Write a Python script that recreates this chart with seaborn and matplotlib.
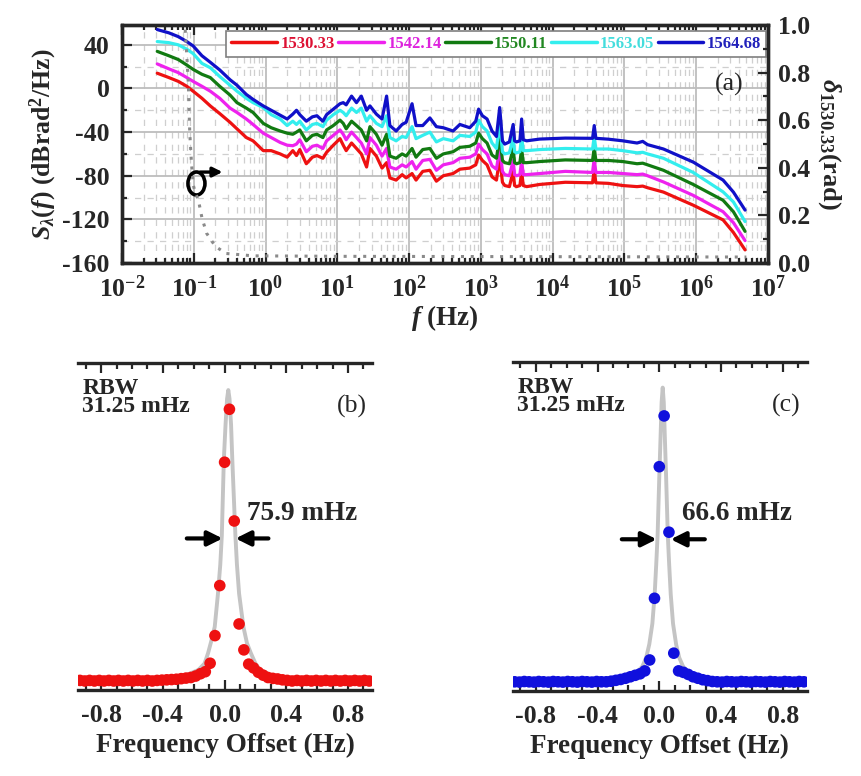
import numpy as np
import pandas as pd
import matplotlib
matplotlib.use('Agg')
import matplotlib.pyplot as plt
import seaborn as sns
from matplotlib.lines import Line2D
from matplotlib.patches import Ellipse
from matplotlib.ticker import LogLocator, MultipleLocator, NullFormatter, FixedLocator

# --- data: (a) phase noise PSD per channel (dBrad^2/Hz) ---
freq_hz = [0.031, 0.045, 0.061, 0.08, 0.098, 0.13, 0.17, 0.23, 0.32, 0.4, 0.54, 0.67, 0.93, 1.2, 1.6,
           2.0, 2.4, 2.7, 3.0, 3.7, 4.5, 5.2, 6.3, 7.1, 8.8, 10.9, 12.1, 13.3, 15.8, 18.5, 21.6, 25.6,
           28.5, 35, 42, 48.6, 54, 66, 80, 91, 110, 125, 155, 195, 240, 300, 410, 510, 700, 850, 930,
           1050, 1220, 1430, 1650, 1830, 2000, 2150, 2500, 2820, 2950, 3140, 3500, 3700, 3900, 4350,
           6600, 15000, 36000, 38000, 40000, 60000, 95000, 1.5e5, 1.8e5, 2.1e5, 3.5e5, 9.1e5, 2.37e6,
           3.3e6, 4.8e6]

psd_1530 = [14, 10, 6.5, 2, -2.5, -9, -16, -23, -31, -37, -45, -48, -57, -57, -60,
            -63, -57, -61.5, -56, -69, -63, -61.5, -64, -58.5, -52, -46, -52, -57, -50, -55, -60, -72,
            -55, -62, -73, -68, -82, -84, -79, -82, -78, -84, -76, -75, -85, -80, -78, -74, -73, -70, -61,
            -66, -70, -81, -84, -64, -86, -89, -90, -76, -89, -90, -89, -76, -89, -90,
            -88, -86, -86.5, -74, -86.5, -87, -89, -90, -89.5, -91, -95, -107, -120.5,
            -132, -148]
psd_1542 = [22.5, 18, 14.5, 10, 6.5, 2, -2.5, -9, -18, -22, -28, -33, -41, -45, -49.5,
            -52, -52.5, -51, -47, -58, -53, -52, -55, -48, -43, -38, -42, -47, -40, -45, -50, -60,
            -45, -52, -62, -55, -72, -74, -70, -72, -67, -74, -66, -65, -75, -70, -68, -64, -63, -60, -51,
            -56, -60, -71, -74, -54, -76, -79, -80, -66, -79, -80, -79, -66, -79, -79,
            -78, -76, -77, -64, -77, -77, -78, -79, -78.5, -80, -85.7, -98, -113,
            -123, -139.5]
psd_1550 = [34, 30, 26.5, 21.5, 17.5, 13, 10, 2, -6, -13, -18, -22, -32, -36, -39,
            -41, -42, -40, -38, -48, -43, -42, -45, -38, -34, -29, -32, -37, -30, -34, -38, -48,
            -35, -42, -52, -42, -62, -64, -60, -62, -55, -63, -56, -55, -64, -60, -58, -54, -53, -50, -41,
            -46, -50, -61, -64, -44, -66, -68, -69, -55, -68, -69, -68, -55, -68, -68,
            -67, -65.5, -66, -54, -66, -66, -67, -69, -68.5, -70, -75, -88, -102.5,
            -113, -131]
psd_1563 = [43, 42, 40, 36, 32, 23, 19, 11, 3, -2.5, -9, -13, -17.5, -24, -28,
            -34, -30, -33, -30, -38, -33, -32, -35, -29, -24, -20, -22, -25, -18, -22, -18, -30,
            -25, -32, -35, -25, -45, -48, -44, -45, -35, -46, -43, -40, -49, -46, -48, -43, -44, -40, -29,
            -35, -39, -50, -55, -31, -58, -60, -59, -45, -58, -59, -58, -44, -57, -57,
            -56, -55, -55.5, -44, -55.5, -55.5, -57, -59, -58.5, -60, -64, -77, -94.8,
            -104, -122]
psd_1564 = [54, 51, 47.5, 43, 39, 30, 24, 17, 8, 3, -5.5, -10, -16, -20, -24.5,
            -28, -23.5, -20, -24, -30, -26, -25, -30, -24, -19, -14, -13, -15, -7, -13, -7, -20,
            -16, -23.5, -28, -7, -34, -39, -33, -31, -14, -34, -34, -27, -35, -36, -39, -33, -36, -30, -19,
            -25, -28, -39, -44, -17.5, -48, -51, -49, -33, -48, -49, -48, -28, -47, -48,
            -46.4, -45.5, -45.7, -34, -45.7, -46.5, -48, -50, -48.5, -51.5, -55.5, -67.5, -84,
            -95, -111.5]

channels = ['1530.33', '1542.14', '1550.11', '1563.05', '1564.68']
line_colors = ['#ee1111', '#ee22ee', '#117a11', '#33eeee', '#1010c8']
text_colors = ['#dd1133', '#dd22dd', '#228822', '#44dddd', '#2222bb']

# integrated phase of 1530.33 (rad), right axis
sigma_f = [0.076, 0.08, 0.084, 0.088, 0.093, 0.098, 0.105, 0.116, 0.13, 0.151, 0.2, 0.28, 0.67,
           10, 1e3, 1e5, 5e6]
sigma_rad = [0.98, 0.87, 0.755, 0.545, 0.42, 0.33, 0.295, 0.265, 0.19, 0.125, 0.07, 0.04, 0.03,
             0.028, 0.027, 0.026, 0.025]

# --- data: (b), (c) beat-note spectra (normalised), RBW 31.25 mHz ---
rbw = 0.03125
offset_hz = np.arange(-30, 31) * rbw
beat_b = [0.002, 0.0, 0.002, 0.0, 0.002, 0.0, 0.002, 0.0, 0.002, 0.0, 0.002, 0.0, 0.002, 0.0, 0.002,
          0.0, 0.002, 0.003, 0.004, 0.005, 0.006, 0.008, 0.01, 0.012, 0.017, 0.025, 0.032, 0.061,
          0.156, 0.328, 0.752, 0.934, 0.55, 0.196, 0.107, 0.058, 0.045, 0.03, 0.02, 0.012, 0.009,
          0.007, 0.004, 0.002, 0.0, 0.002, 0.0, 0.002, 0.0, 0.002, 0.0, 0.002, 0.0, 0.002, 0.0,
          0.002, 0.0, 0.002, 0.0, 0.002, 0.0]
beat_c = [0.003, 0.002, 0.004, 0.003, 0.002, 0.004, 0.003, 0.002, 0.004, 0.003, 0.002, 0.004, 0.003,
          0.002, 0.004, 0.003, 0.002, 0.004, 0.003, 0.003, 0.005, 0.008, 0.011, 0.015, 0.02, 0.025,
          0.03, 0.04, 0.077, 0.286, 0.732, 0.904, 0.51, 0.10, 0.04, 0.035, 0.028, 0.02, 0.015, 0.01,
          0.007, 0.004, 0.003, 0.002, 0.004, 0.003, 0.002, 0.004, 0.003, 0.002, 0.004, 0.003, 0.002,
          0.004, 0.003, 0.002, 0.004, 0.003, 0.002, 0.004, 0.003]

fit_b_x = [-0.95, -0.7, -0.5, -0.38, -0.33, -0.25, -0.17, -0.13, -0.107, -0.085, -0.064, -0.043,
           -0.028, -0.018, -0.005, 0.006, 0.016, 0.024, 0.032, 0.042, 0.05, 0.07, 0.08, 0.094, 0.122,
           0.145, 0.17, 0.2, 0.23, 0.3, 0.38, 0.5, 0.7, 0.95]
fit_b_y = [0.003, 0.004, 0.006, 0.008, 0.01, 0.02, 0.038, 0.06, 0.096, 0.14, 0.186, 0.3,
           0.4, 0.5, 0.76, 0.88, 0.97, 1.0, 0.97, 0.88, 0.76, 0.5, 0.4, 0.3, 0.186,
           0.13, 0.096, 0.06, 0.038, 0.02, 0.01, 0.007, 0.004, 0.003]
fit_c_x = [-0.95, -0.6, -0.4, -0.3, -0.22, -0.15, -0.11, -0.085, -0.065, -0.045, -0.03, -0.02,
           -0.011, 0.0, 0.008, 0.015, 0.022, 0.029, 0.036, 0.044, 0.055, 0.064, 0.074, 0.089, 0.109,
           0.129, 0.154, 0.194, 0.264, 0.344, 0.444, 0.644, 0.95]
fit_c_y = [0.003, 0.004, 0.007, 0.01, 0.018, 0.032, 0.055, 0.085, 0.13, 0.2, 0.3, 0.4,
           0.5, 0.7, 0.83, 0.95, 1.0, 0.95, 0.83, 0.7, 0.5, 0.4, 0.3, 0.2, 0.13,
           0.085, 0.055, 0.032, 0.018, 0.01, 0.007, 0.004, 0.003]

# --- style ---
sns.set_theme(style="ticks")
plt.rcParams['font.family'] = ['Liberation Serif', 'DejaVu Serif']
plt.rcParams['font.weight'] = 'bold'
plt.rcParams['axes.labelweight'] = 'bold'
plt.rcParams['axes.unicode_minus'] = False
plt.rcParams['mathtext.fontset'] = 'custom'
plt.rcParams['mathtext.rm'] = 'Liberation Serif:bold'
plt.rcParams['mathtext.it'] = 'Liberation Serif:italic:bold'
plt.rcParams['mathtext.bf'] = 'Liberation Serif:bold'

TICK_FS = 18.5
SPINE_W = 2.4

fig = plt.figure(figsize=(8.62, 7.76), dpi=100)

# ---------------- (a) ----------------
ax = fig.add_axes([0.1415, 0.6611, 0.7494, 0.3067])
ax.set_xscale('log')
axr = ax.twinx()

df = pd.DataFrame({
    'f': freq_hz * 5,
    'S': psd_1530 + psd_1542 + psd_1550 + psd_1563 + psd_1564,
    'ch': sum([[c] * len(freq_hz) for c in channels], []),
})
sns.lineplot(data=df, x='f', y='S', hue='ch', hue_order=channels, palette=line_colors,
             estimator=None, sort=False, lw=2.3, legend=False, ax=ax)
sns.lineplot(x=sigma_f, y=sigma_rad, ax=axr, color='#8a8a8a', lw=2.2, ls=(0, (1, 2.2)), sort=False,
             estimator=None)

ax.set_xlim(1e-2, 1e7)
ax.set_ylim(-160, 58.2)
ax.set_yticks([40, 0, -40, -80, -120, -160])
ax.yaxis.set_minor_locator(MultipleLocator(20))
ax.xaxis.set_major_locator(FixedLocator([10.0 ** k for k in range(-2, 8)]))
ax.set_xticklabels(['$10^{%d}$' % k for k in range(-2, 8)])
ax.xaxis.set_minor_locator(LogLocator(base=10, subs=np.arange(2, 10), numticks=30))
ax.xaxis.set_minor_formatter(NullFormatter())
ax.set_axisbelow(True)
ax.grid(which='major', color='#bdbdbd', lw=1.3, ls='-')
ax.grid(which='minor', color='#cfcfcf', lw=0.9, ls=(0, (5, 5)))
ax.tick_params(which='both', direction='in', top=True, right=False, labelsize=TICK_FS, width=1.6)
ax.tick_params(which='major', length=7, pad=9)
ax.tick_params(which='minor', length=3.5)
for s in ax.spines.values():
    s.set_linewidth(SPINE_W)
ax.set_xlabel('$f$ (Hz)', fontsize=19.5, labelpad=1)
ax.set_ylabel('$S_{\\lambda}(f)$ (dBrad$^2$/Hz)', fontsize=18.5, labelpad=2)

handles = [Line2D([0], [0], color=c, lw=2.5) for c in line_colors]
leg = ax.legend(handles, channels, ncol=5, loc='upper right', bbox_to_anchor=(0.997, 0.975),
                frameon=True, fancybox=False, edgecolor='#7f7f7f', framealpha=1,
                prop={'family': 'Liberation Serif', 'weight': 'bold', 'size': 12},
                handlelength=2.75, handletextpad=0.2, columnspacing=0.2, borderpad=0.3,
                borderaxespad=0)
leg.get_frame().set_linewidth(1.2)
for t, c in zip(leg.get_texts(), text_colors):
    t.set_color(c)
ax.text(0.94, 0.75, '(a)', transform=ax.transAxes, fontsize=18.5, fontweight='normal',
        ha='center', va='center')

# sigma marker pointing to right axis
ax.add_patch(Ellipse((0.1153, 0.334), 0.0263, 0.0966, transform=ax.transAxes,
                     fill=False, lw=2.6, ec='black', zorder=6))
ax.annotate('', xy=(0.16, 0.382), xytext=(0.117, 0.382), xycoords='axes fraction',
            arrowprops=dict(arrowstyle='-|>', lw=2.4, color='black', mutation_scale=14), zorder=6)

axr.set_ylim(0, 1.0)
axr.set_yticks(np.arange(0, 1.01, 0.2))
axr.set_yticklabels(['%.1f' % v for v in np.arange(0, 1.01, 0.2)])
axr.yaxis.set_minor_locator(MultipleLocator(0.1))
axr.tick_params(which='both', direction='in', labelsize=TICK_FS, width=1.6)
axr.tick_params(which='major', length=7, pad=7)
axr.tick_params(which='minor', length=3.5)
for s in axr.spines.values():
    s.set_linewidth(SPINE_W)
axr.set_ylabel('$\\delta_{1530.33}$(rad)', fontsize=19, rotation=270, labelpad=24)


# ---------------- (b), (c) ----------------
def beat_panel(axp, fit_x, fit_y, dots, color, width_txt, tag, ylim, arrow_y, arr_l, arr_r):
    sns.lineplot(x=fit_x, y=fit_y, ax=axp, color='#c4c4c4', lw=2.8, sort=False, estimator=None,
                 zorder=2)
    sns.scatterplot(x=offset_hz, y=dots, ax=axp, color=color, s=70, edgecolor='none', zorder=3)
    axp.set_xlim(-0.95, 0.955)
    axp.set_ylim(*ylim)
    axp.set_xticks([-0.8, -0.4, 0.0, 0.4, 0.8])
    axp.set_xticklabels(['-0.8', '-0.4', '0.0', '0.4', '0.8'])
    axp.xaxis.set_minor_locator(MultipleLocator(0.1))
    axp.set_yticks([])
    for side in ['left', 'right']:
        axp.spines[side].set_visible(False)
    for side in ['top', 'bottom']:
        axp.spines[side].set_linewidth(SPINE_W)
    axp.tick_params(axis='x', which='both', direction='in', top=True, width=1.6, labelsize=TICK_FS)
    axp.tick_params(axis='x', which='major', length=7, pad=10)
    axp.tick_params(axis='x', which='minor', length=4)
    axp.set_xlabel('Frequency Offset (Hz)', fontsize=19.5, labelpad=4)
    axp.set_ylabel('')
    axp.text(0.015, 0.955, 'RBW\n31.25 mHz', transform=axp.transAxes, fontsize=17,
             ha='left', va='top', linespacing=0.85)
    axp.text(0.93, 0.868, tag, transform=axp.transAxes, fontsize=18.5, fontweight='normal',
             ha='center', va='center')
    axp.text(0.575, 0.54, width_txt, transform=axp.transAxes, fontsize=19.5, ha='left',
             va='center')
    for start, tip in (arr_l, arr_r):
        axp.annotate('', xy=(tip, arrow_y), xytext=(start, arrow_y),
                     arrowprops=dict(arrowstyle='-|>', lw=3.0, color='black',
                                     mutation_scale=22, shrinkA=0, shrinkB=0), zorder=5)


axb = fig.add_axes([0.0905, 0.1108, 0.341, 0.4214])
beat_panel(axb, fit_b_x, fit_b_y, beat_b, '#ee1111', '75.9 mHz', '(b)', (-0.031, 1.093), 0.49,
           (-0.245, -0.013), (0.284, 0.071))

axc = fig.add_axes([0.5948, 0.1096, 0.341, 0.424])
beat_panel(axc, fit_c_x, fit_c_y, beat_c, '#1010dd', '66.6 mHz', '(c)', (-0.028, 1.087), 0.486,
           (-0.243, -0.017), (0.295, 0.074))

fig.savefig('out.png', dpi=100)
plt.close(fig)
